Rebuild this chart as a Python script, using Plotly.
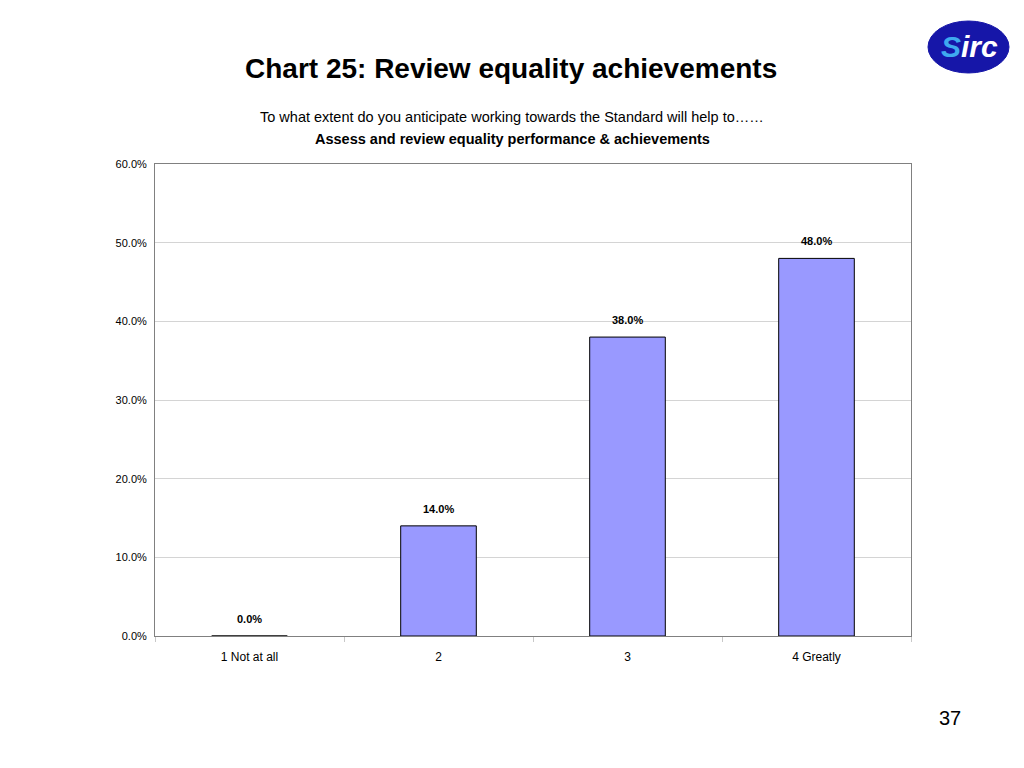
import plotly.graph_objects as go

categories = ["1 Not at all", "2", "3", "4 Greatly"]
values = [0.0, 14.0, 38.0, 48.0]
tick_vals = [0, 10, 20, 30, 40, 50, 60]
tick_text = ["0.0%", "10.0%", "20.0%", "30.0%", "40.0%", "50.0%", "60.0%"]

title_text = "Chart 25: Review equality achievements"
question_text = "To what extent do you anticipate working towards the Standard will help to……"
statement_text = "Assess and review equality performance & achievements"
page_number = "37"

FONT = "Liberation Sans, Arial, sans-serif"

# page is rendered with an 8px body margin
OFF = 8
W, H = 1024 - OFF, 768 - OFF
PL, PR, PT, PB = 155, 911, 164, 636  # target plot area in screen pixels

fig = go.Figure()
fig.add_trace(go.Bar(
    x=categories, y=values, width=0.4,
    marker=dict(color="#9999FF", line=dict(color="#000000", width=1)),
    hoverinfo="skip",
))

for i, v in enumerate(values):
    fig.add_annotation(x=i, y=v, text=f"<b>{v:.1f}%</b>", showarrow=False,
                       yanchor="bottom", yshift=9,
                       font=dict(family=FONT, size=11, color="#000000"))

fig.update_layout(
    width=W, height=H,
    margin=dict(l=PL - OFF, r=W - (PR - OFF), t=PT - OFF, b=H - (PB - OFF), pad=0),
    paper_bgcolor="white", plot_bgcolor="white",
    showlegend=False,
    font=dict(family=FONT, color="#000000"),
    bargap=0.6,
)
fig.update_yaxes(range=[0, 60], tickvals=tick_vals, ticktext=tick_text,
                 showgrid=True, gridcolor="#d4d4d4", gridwidth=1,
                 showline=True, linecolor="#808080", linewidth=1, mirror=True,
                 ticks="outside", ticklen=5, tickcolor="rgba(0,0,0,0)",
                 tickfont=dict(family=FONT, size=11), zeroline=False, fixedrange=True)
fig.update_xaxes(type="category", showline=True, linecolor="#808080", linewidth=1, mirror=True,
                 ticks="outside", ticklen=5, tickcolor="#c8c8c8", tickson="boundaries",
                 ticklabelstandoff=10,
                 tickfont=dict(family=FONT, size=12), showgrid=False, fixedrange=True)

def px_x(p):
    return (p - PL) / (PR - PL)
def px_y(p):
    return (PB - p) / (PB - PT)

# Titles
fig.add_annotation(xref="paper", yref="paper", x=px_x(511), y=px_y(68), xanchor="center", yanchor="middle",
                   text=f"<b>{title_text}</b>", showarrow=False,
                   font=dict(family=FONT, size=28, color="#000000"))
fig.add_annotation(xref="paper", yref="paper", x=px_x(512), y=px_y(117), xanchor="center", yanchor="middle",
                   text=question_text, showarrow=False,
                   font=dict(family=FONT, size=14.5, color="#000000"))
fig.add_annotation(xref="paper", yref="paper", x=px_x(512), y=px_y(139), xanchor="center", yanchor="middle",
                   text=f"<b>{statement_text}</b>", showarrow=False,
                   font=dict(family=FONT, size=14.5, color="#000000"))

# Page number
fig.add_annotation(xref="paper", yref="paper", x=px_x(950), y=px_y(718), xanchor="center", yanchor="middle",
                   text=page_number, showarrow=False,
                   font=dict(family=FONT, size=20, color="#000000"))

# Logo (approximation)
fig.add_shape(type="circle", xref="paper", yref="paper",
              x0=px_x(928), x1=px_x(1009), y0=px_y(73), y1=px_y(21),
              fillcolor="#1616a8", line=dict(color="#1616a8", width=1), layer="above")
fig.add_annotation(xref="paper", yref="paper", x=px_x(969), y=px_y(46), xanchor="center", yanchor="middle",
                   text="<b><i><span style='color:#3fa9ef'>S</span>irc</i></b>", showarrow=False,
                   font=dict(family=FONT, size=30, color="white"))

fig.write_html("out.html")
